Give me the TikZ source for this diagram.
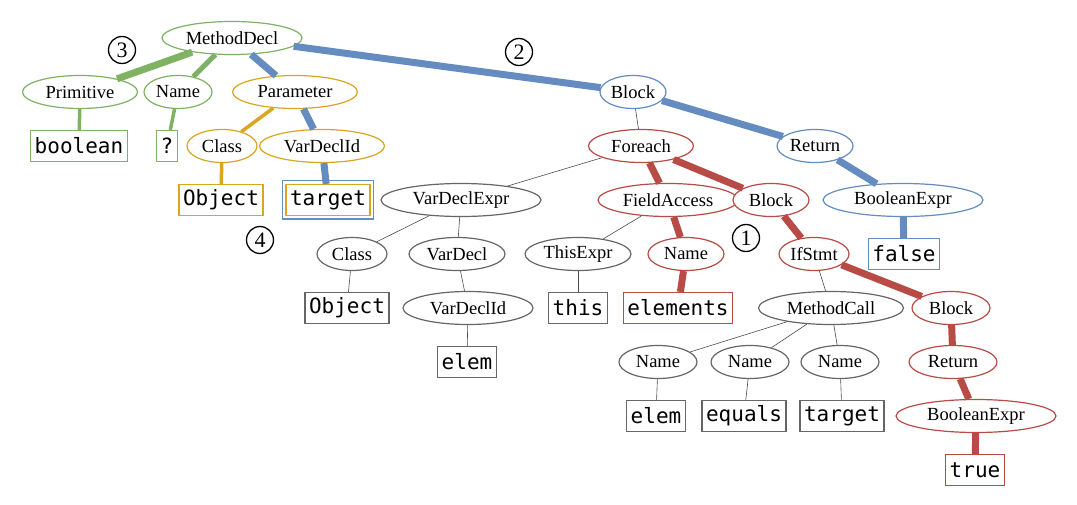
\documentclass[tikz,border=0pt]{standalone}
\usepackage{fontspec}
\setmainfont{Liberation Serif}
\setmonofont{DejaVu Sans Mono}
\usetikzlibrary{shapes.geometric}
\definecolor{grnC}{RGB}{128,178,100}
\definecolor{ylwC}{RGB}{218,165,32}
\definecolor{bluC}{RGB}{100,140,192}
\definecolor{redC}{RGB}{185,75,70}
\tikzset{
  ast/.style={ellipse,draw=#1,fill=white,line width=1.2pt,minimum height=33pt,inner sep=0pt,
    font=\fontsize{18.5}{18.5}\selectfont},
  ast/.default=black!60,
  tok/.style={rectangle,draw=#1,fill=white,line width=1.2pt,minimum height=31pt,inner sep=4pt,
    font=\fontsize{21}{21}\ttfamily},
  tok/.default=black!60,
  plain/.style={draw=black!70,line width=0.6pt},
  hot/.style={draw=#1,line width=7pt},
  cool/.style={draw=#1,line width=3.5pt},
  step mark/.style={circle,draw,line width=1.3pt,minimum size=27pt,inner sep=0pt,
    font=\fontsize{22}{22}\selectfont}
}
\begin{document}
\begin{tikzpicture}[x=1pt,y=-1pt]
  \useasboundingbox (0,0) rectangle (1077,505);

  % method header
  \node[ast=grnC,minimum width=140pt] (md) at (232,38) {MethodDecl};
  \node[ast=grnC,minimum width=115pt] (prim) at (80,92) {Primitive};
  \node[ast=grnC,minimum width=68pt] (name) at (178,92) {Name};
  \node[ast=ylwC,minimum width=125pt] (param) at (295,92) {Parameter};
  \node[tok=grnC] (bool) at (79,146) {boolean};
  \node[tok=grnC] (qm) at (167,146) {?};
  \node[ast=ylwC,minimum width=70pt] (cls) at (222,146) {Class};
  \node[ast=ylwC,minimum width=125pt] (vdi) at (322,146) {VarDeclId};
  \node[tok=ylwC] (obj) at (221,200) {Object};
  \node[tok=ylwC] (tgt) at (328,200) {target};
  \draw[bluC,line width=1.2pt] ([shift={(-3,-3)}]tgt.north west) rectangle ([shift={(3,3)}]tgt.south east);

  % body
  \node[ast=bluC,minimum width=66pt] (blk) at (633,92) {Block};
  \node[ast=redC,minimum width=105pt] (fe) at (641,146) {Foreach};
  \node[ast=bluC,minimum width=76pt] (ret) at (815,146) {Return};
  \node[ast,minimum width=160pt] (vde) at (461,200) {VarDeclExpr};
  \node[ast=redC,minimum width=140pt] (fa) at (668,200) {FieldAccess};
  \node[ast=redC,minimum width=76pt] (blk2) at (771,200) {Block};
  \node[ast=bluC,minimum width=160pt] (be) at (903,200) {BooleanExpr};
  \node[ast,minimum width=70pt] (cls2) at (352,254) {Class};
  \node[ast,minimum width=96pt] (vd) at (457,254) {VarDecl};
  \node[ast,minimum width=106pt] (this) at (578,254) {ThisExpr};
  \node[ast=redC,minimum width=76pt] (nm) at (686,254) {Name};
  \node[ast=redC,minimum width=70pt] (ifs) at (814,254) {IfStmt};
  \node[tok=bluC] (fls) at (904,254) {false};
  \node[tok] (obj2) at (347,308) {Object};
  \node[ast,minimum width=130pt] (vdi2) at (468,308) {VarDeclId};
  \node[tok] (thist) at (578,308) {this};
  \node[tok=redC] (elems) at (678,308) {elements};
  \node[ast,minimum width=145pt] (mc) at (831,308) {MethodCall};
  \node[ast=redC,minimum width=78pt] (blk3) at (951,308) {Block};
  \node[tok] (elem) at (467,362) {elem};
  \node[ast,minimum width=78pt] (na) at (658,362) {Name};
  \node[ast,minimum width=78pt] (nb) at (750,362) {Name};
  \node[ast,minimum width=78pt] (nc) at (840,362) {Name};
  \node[ast=redC,minimum width=88pt] (ret2) at (953,362) {Return};
  \node[tok] (elem2) at (656,416) {elem};
  \node[tok] (eq) at (744,416) {equals};
  \node[tok] (tgt2) at (842,416) {target};
  \node[ast=redC,minimum width=160pt] (be2) at (976,416) {BooleanExpr};
  \node[tok=redC] (tru) at (975,470) {true};

  % path marks
  \node[step mark] (m3) at (122,50) {3};
  \node[step mark] (m2) at (519,52) {2};
  \node[step mark] (m4) at (260,240) {4};
  \node[step mark] (m1) at (746,238) {1};

  % edges
  \draw[hot=grnC] (md) -- (prim);
  \draw[cool=grnC,line width=5pt] (md) -- (name);
  \draw[cool=grnC] (prim) -- (bool);
  \draw[cool=grnC] (name) -- (qm);
  \draw[hot=bluC] (md) -- (param);
  \draw[cool=ylwC] (param) -- (cls);
  \draw[cool=ylwC] (cls) -- (obj);
  \draw[hot=bluC] (param) -- (vdi);
  \draw[hot=bluC] (vdi) -- (tgt);
  \draw[hot=bluC] (md) -- (blk);
  \draw[hot=bluC] (blk) -- (ret);
  \draw[hot=bluC] (ret) -- (be);
  \draw[hot=bluC] (be) -- (fls);
  \draw[plain] (blk) -- (fe);
  \draw[plain] (fe) -- (vde);
  \draw[plain] (vde) -- (cls2);
  \draw[plain] (vde) -- (vd);
  \draw[plain] (cls2) -- (obj2);
  \draw[plain] (vd) -- (vdi2);
  \draw[plain] (vdi2) -- (elem);
  \draw[plain] (fa) -- (this);
  \draw[plain] (this) -- (thist);
  \draw[plain] (ifs) -- (mc);
  \draw[plain] (mc) -- (na);
  \draw[plain] (mc) -- (nb);
  \draw[plain] (mc) -- (nc);
  \draw[plain] (na) -- (elem2);
  \draw[plain] (nb) -- (eq);
  \draw[plain] (nc) -- (tgt2);
  \foreach \a/\b in {fe/fa,fa/nm,nm/elems,fe/blk2,blk2/ifs,ifs/blk3,blk3/ret2,ret2/be2,be2/tru}
    \draw[hot=redC] (\a) -- (\b);
\end{tikzpicture}
\end{document}
